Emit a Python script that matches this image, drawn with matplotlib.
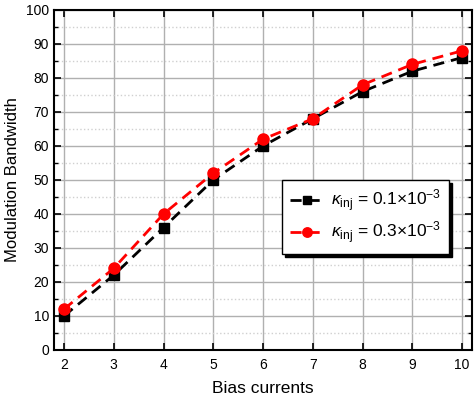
import matplotlib.pyplot as plt
from matplotlib.ticker import MultipleLocator

# Datos
bias = [2, 3, 4, 5, 6, 7, 8, 9, 10]
bw_01 = [10, 22, 36, 50, 60, 68, 76, 82, 86]
bw_03 = [12, 24, 40, 52, 62, 68, 78, 84, 88]
labels = [r'$\kappa_{\mathrm{inj}}$ = 0.1$\times$10$^{-3}$',
          r'$\kappa_{\mathrm{inj}}$ = 0.3$\times$10$^{-3}$']

plt.rcParams['font.family'] = ['Liberation Sans', 'DejaVu Sans']
plt.rcParams['mathtext.fontset'] = 'custom'
plt.rcParams['mathtext.rm'] = 'Liberation Sans'
plt.rcParams['mathtext.it'] = 'Liberation Sans:italic'

fig = plt.figure(figsize=(4.74, 3.99), dpi=100)
ax = fig.add_axes([0.114, 0.123, 0.882, 0.852])

ax.plot(bias, bw_01, color='black', linestyle=(0, (4, 2.5)), linewidth=2,
        marker='s', markersize=7, label=labels[0])
ax.plot(bias, bw_03, color='red', linestyle=(0, (4, 2.5)), linewidth=2,
        marker='o', markersize=8, label=labels[1])

ax.set_xlim(1.8, 10.2)
ax.set_ylim(0, 100)
ax.xaxis.set_major_locator(MultipleLocator(1))
ax.yaxis.set_major_locator(MultipleLocator(10))
ax.yaxis.set_minor_locator(MultipleLocator(5))

ax.grid(True, which='major', color='#b0b0b0', linewidth=1)
ax.grid(True, which='minor', axis='y', color='#d0d0d0', linestyle=':', linewidth=1)
ax.set_axisbelow(True)

ax.tick_params(which='both', direction='in', top=True, right=True,
               labeltop=False, labelright=False, labelsize=10)
ax.tick_params(axis='x', which='major', pad=6)
ax.tick_params(which='major', length=5, width=1.2)
ax.tick_params(which='minor', length=3, width=1)
for s in ax.spines.values():
    s.set_linewidth(1.5)

ax.set_xlabel('Bias currents', fontsize=12.5, labelpad=6)
ax.set_ylabel('Modulation Bandwidth', fontsize=12)

leg = ax.legend(loc='upper left', bbox_to_anchor=(0.545, 0.5), fontsize=12.5,
                frameon=True, fancybox=False, shadow={'color': 'black', 'alpha': 1},
                edgecolor='black', borderpad=0.45, borderaxespad=0,
                handlelength=2.0, labelspacing=0.3, handletextpad=0.4,
                markerscale=0.85)
leg.get_frame().set_linewidth(1)

fig.savefig('out.png', dpi=100)
